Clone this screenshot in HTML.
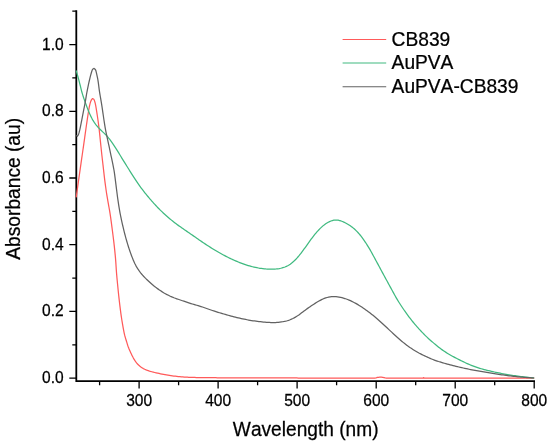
<!DOCTYPE html>
<html><head><meta charset="utf-8"><title>UV-Vis absorbance</title>
<style>
html,body{margin:0;padding:0;background:#fff;}
svg{display:block}
text{font-family:"Liberation Sans",Arial,Helvetica,sans-serif;fill:#000;stroke:#000;stroke-width:0.25px;font-kerning:none}
.t{font-size:16.2px}
.a{font-size:19.9px}
.l{font-size:19.5px}
</style></head><body>
<svg width="550" height="446" viewBox="0 0 550 446">
<rect width="550" height="446" fill="#fff"/>
<path d="M76.3,10.3 V381.2 H535.0" fill="none" stroke="#000" stroke-width="1.8"/>
<path d="M69.3,378.1 H76.3 M72.3,344.8 H76.3 M69.3,311.4 H76.3 M72.3,278.1 H76.3 M69.3,244.7 H76.3 M72.3,211.4 H76.3 M69.3,178.0 H76.3 M72.3,144.7 H76.3 M69.3,111.3 H76.3 M72.3,77.9 H76.3 M69.3,44.6 H76.3 M72.3,11.2 H76.3 M99.6,381.2 V385.2 M139.1,381.2 V388.5 M178.6,381.2 V385.2 M218.1,381.2 V388.5 M257.6,381.2 V385.2 M297.1,381.2 V388.5 M336.6,381.2 V385.2 M376.2,381.2 V388.5 M415.7,381.2 V385.2 M455.2,381.2 V388.5 M494.7,381.2 V385.2 M534.2,381.2 V388.5" fill="none" stroke="#000" stroke-width="1.3"/>
<text transform="translate(63.6,383.0) scale(0.96,1)" text-anchor="end" class="t">0.0</text>
<text transform="translate(63.6,316.3) scale(0.96,1)" text-anchor="end" class="t">0.2</text>
<text transform="translate(63.6,249.6) scale(0.96,1)" text-anchor="end" class="t">0.4</text>
<text transform="translate(63.6,182.9) scale(0.96,1)" text-anchor="end" class="t">0.6</text>
<text transform="translate(63.6,116.2) scale(0.96,1)" text-anchor="end" class="t">0.8</text>
<text transform="translate(63.6,49.5) scale(0.96,1)" text-anchor="end" class="t">1.0</text>
<text transform="translate(139.1,406.4) scale(0.96,1)" text-anchor="middle" class="t">300</text>
<text transform="translate(218.1,406.4) scale(0.96,1)" text-anchor="middle" class="t">400</text>
<text transform="translate(297.1,406.4) scale(0.96,1)" text-anchor="middle" class="t">500</text>
<text transform="translate(376.2,406.4) scale(0.96,1)" text-anchor="middle" class="t">600</text>
<text transform="translate(455.2,406.4) scale(0.96,1)" text-anchor="middle" class="t">700</text>
<text transform="translate(534.2,406.4) scale(0.96,1)" text-anchor="middle" class="t">800</text>
<text transform="translate(305.7,435.9) scale(0.962,1)" text-anchor="middle" class="a">Wavelength (nm)</text>
<text transform="translate(20.0,188.8) rotate(-90) scale(0.979,1)" text-anchor="middle" class="a" style="font-size:19.6px">Absorbance (au)</text>
<path d="M76.20,197.30 L76.41,195.81 L76.62,194.33 L76.83,192.84 L77.04,191.36 L77.25,189.87 L77.45,188.39 L77.66,186.90 L77.87,185.42 L78.08,183.93 L78.29,182.45 L78.50,180.96 L78.71,179.48 L78.92,177.99 L79.13,176.51 L79.34,175.02 L79.55,173.54 L79.76,172.05 L79.98,170.57 L80.19,169.08 L80.40,167.60 L80.61,166.11 L80.83,164.63 L81.04,163.14 L81.25,161.66 L81.47,160.17 L81.68,158.69 L81.89,157.20 L82.11,155.72 L82.32,154.23 L82.53,152.75 L82.75,151.26 L82.96,149.78 L83.17,148.29 L83.39,146.81 L83.60,145.32 L83.81,143.84 L84.02,142.35 L84.23,140.87 L84.45,139.38 L84.66,137.90 L84.86,136.41 L85.07,134.93 L85.28,133.44 L85.49,131.96 L85.70,130.47 L85.90,128.99 L86.11,127.50 L86.32,126.02 L86.53,124.53 L86.75,123.05 L86.96,121.56 L87.18,120.08 L87.41,118.59 L87.63,117.11 L87.86,115.63 L88.09,114.15 L88.33,112.67 L88.57,111.18 L88.81,109.70 L89.07,108.23 L89.34,106.75 L89.65,105.28 L90.00,103.82 L90.41,102.38 L90.91,100.97 L91.56,99.62 L92.59,98.56 L93.79,99.22 L94.42,100.57 L94.88,102.00 L95.25,103.46 L95.56,104.92 L95.85,106.40 L96.11,107.87 L96.35,109.35 L96.59,110.84 L96.82,112.32 L97.04,113.80 L97.26,115.28 L97.48,116.77 L97.70,118.25 L97.92,119.74 L98.13,121.22 L98.33,122.71 L98.52,124.20 L98.72,125.68 L98.90,127.17 L99.08,128.66 L99.25,130.15 L99.42,131.64 L99.58,133.13 L99.73,134.63 L99.89,136.12 L100.04,137.61 L100.19,139.10 L100.34,140.59 L100.50,142.09 L100.65,143.58 L100.80,145.07 L100.95,146.56 L101.11,148.05 L101.26,149.55 L101.42,151.04 L101.58,152.53 L101.74,154.02 L101.91,155.51 L102.08,157.00 L102.25,158.49 L102.42,159.98 L102.59,161.47 L102.77,162.96 L102.94,164.45 L103.11,165.94 L103.28,167.43 L103.44,168.92 L103.61,170.41 L103.78,171.91 L103.95,173.40 L104.12,174.89 L104.29,176.38 L104.47,177.87 L104.65,179.35 L104.84,180.84 L105.04,182.33 L105.24,183.82 L105.44,185.30 L105.64,186.79 L105.85,188.27 L106.05,189.76 L106.27,191.25 L106.48,192.73 L106.71,194.21 L106.95,195.69 L107.21,197.17 L107.47,198.65 L107.72,200.13 L107.98,201.60 L108.24,203.08 L108.51,204.56 L108.77,206.03 L109.03,207.51 L109.29,208.99 L109.54,210.47 L109.79,211.95 L110.03,213.43 L110.26,214.91 L110.49,216.39 L110.70,217.88 L110.91,219.36 L111.11,220.85 L111.32,222.33 L111.51,223.82 L111.71,225.31 L111.90,226.80 L112.09,228.28 L112.29,229.77 L112.48,231.26 L112.67,232.75 L112.86,234.23 L113.05,235.72 L113.24,237.21 L113.42,238.70 L113.60,240.19 L113.78,241.68 L113.95,243.17 L114.12,244.66 L114.29,246.15 L114.45,247.64 L114.61,249.13 L114.77,250.62 L114.92,252.12 L115.07,253.61 L115.22,255.10 L115.35,256.59 L115.49,258.09 L115.61,259.58 L115.72,261.08 L115.83,262.58 L115.93,264.07 L116.02,265.57 L116.12,267.07 L116.21,268.56 L116.31,270.06 L116.42,271.56 L116.53,273.05 L116.66,274.55 L116.79,276.04 L116.92,277.54 L117.06,279.03 L117.21,280.52 L117.35,282.01 L117.50,283.51 L117.65,285.00 L117.80,286.49 L117.94,287.99 L118.09,289.48 L118.24,290.97 L118.39,292.46 L118.55,293.96 L118.70,295.45 L118.86,296.94 L119.03,298.43 L119.20,299.92 L119.37,301.41 L119.54,302.90 L119.72,304.39 L119.90,305.88 L120.09,307.37 L120.28,308.85 L120.47,310.34 L120.66,311.83 L120.86,313.32 L121.07,314.80 L121.28,316.29 L121.50,317.77 L121.72,319.25 L121.96,320.74 L122.20,322.22 L122.45,323.69 L122.71,325.17 L122.97,326.65 L123.23,328.13 L123.51,329.60 L123.79,331.07 L124.09,332.54 L124.41,334.01 L124.75,335.47 L125.14,336.92 L125.56,338.36 L126.01,339.79 L126.46,341.22 L126.90,342.65 L127.33,344.09 L127.79,345.52 L128.28,346.93 L128.81,348.34 L129.38,349.72 L129.98,351.10 L130.60,352.46 L131.24,353.82 L131.89,355.17 L132.57,356.51 L133.27,357.83 L134.01,359.14 L134.80,360.41 L135.65,361.64 L136.56,362.83 L137.53,363.97 L138.57,365.05 L139.68,366.06 L140.84,366.99 L142.08,367.84 L143.37,368.58 L144.72,369.25 L146.09,369.84 L147.49,370.38 L148.91,370.87 L150.34,371.32 L151.78,371.73 L153.23,372.12 L154.68,372.49 L156.14,372.84 L157.60,373.17 L159.07,373.48 L160.54,373.77 L162.02,374.05 L163.49,374.32 L164.97,374.58 L166.44,374.85 L167.92,375.11 L169.40,375.36 L170.88,375.60 L172.36,375.82 L173.85,376.02 L175.34,376.21 L176.83,376.37 L178.32,376.52 L179.82,376.66 L181.31,376.79 L182.81,376.91 L184.30,377.02 L185.80,377.12 L187.30,377.21 L188.79,377.29 L190.29,377.35 L191.79,377.40 L193.29,377.44 L194.79,377.48 L196.29,377.51 L197.79,377.55 L199.29,377.57 L200.79,377.60 L202.29,377.62 L203.79,377.64 L205.29,377.65 L206.79,377.67 L208.29,377.68 L209.79,377.70 L211.29,377.71 L212.79,377.72 L214.29,377.73 L215.79,377.74 L217.29,377.75 L218.79,377.76 L220.29,377.77 L221.79,377.78 L223.29,377.79 L224.79,377.80 L226.29,377.80 L227.79,377.81 L229.29,377.82 L230.79,377.83 L232.29,377.83 L233.79,377.84 L235.29,377.84 L236.79,377.85 L238.29,377.86 L239.79,377.86 L241.29,377.87 L242.79,377.87 L244.29,377.88 L245.79,377.89 L247.29,377.89 L248.79,377.90 L250.29,377.90 L251.79,377.91 L253.29,377.91 L254.79,377.91 L256.29,377.92 L257.79,377.92 L259.29,377.93 L260.79,377.93 L262.29,377.93 L263.79,377.94 L265.29,377.94 L266.79,377.94 L268.29,377.94 L269.79,377.95 L271.29,377.95 L272.79,377.95 L274.29,377.96 L275.79,377.96 L277.29,377.96 L278.79,377.96 L280.29,377.96 L281.79,377.97 L283.29,377.97 L284.79,377.97 L286.29,377.97 L287.79,377.98 L289.29,377.98 L290.79,377.98 L292.29,377.98 L293.79,377.99 L295.29,377.99 L296.79,377.99 L298.29,378.00 L299.79,378.00 L301.29,378.00 L302.79,378.01 L304.29,378.01 L305.79,378.01 L307.29,378.02 L308.79,378.02 L310.29,378.03 L311.79,378.03 L313.29,378.03 L314.79,378.04 L316.29,378.04 L317.79,378.05 L319.29,378.05 L320.79,378.06 L322.29,378.06 L323.79,378.06 L325.29,378.07 L326.79,378.07 L328.29,378.08 L329.79,378.08 L331.29,378.08 L332.79,378.09 L334.29,378.09 L335.79,378.09 L337.29,378.10 L338.79,378.10 L340.29,378.10 L341.79,378.10 L343.29,378.11 L344.79,378.11 L346.29,378.11 L347.79,378.12 L349.29,378.12 L350.79,378.13 L352.29,378.13 L353.79,378.14 L355.29,378.14 L356.79,378.15 L358.29,378.15 L359.79,378.16 L361.29,378.16 L362.79,378.16 L364.29,378.16 L365.79,378.16 L367.29,378.16 L368.79,378.15 L370.29,378.15 L371.79,378.13 L373.28,378.11 L374.74,378.06 L375.97,377.93 L376.71,377.67 L377.32,377.40 L378.39,377.26 L379.80,377.22 L381.29,377.23 L382.72,377.32 L383.99,377.55 L385.20,377.86 L386.54,378.06 L388.01,378.13 L389.50,378.15 L391.00,378.16 L392.50,378.16 L394.00,378.15 L395.50,378.14 L397.00,378.14 L398.50,378.13 L400.00,378.12 L401.50,378.11 L403.00,378.11 L404.50,378.10 L406.00,378.10 L407.50,378.11 L409.00,378.11 L410.50,378.12 L412.00,378.13 L413.50,378.14 L415.00,378.14 L416.50,378.15 L418.00,378.15 L419.50,378.14 L421.00,378.12 L422.43,378.05 L423.51,377.88 L423.76,377.70 L423.40,377.72 L423.50,377.88 L424.48,378.01 L425.89,378.07 L427.38,378.10 L428.88,378.12 L430.38,378.13 L431.88,378.14 L433.38,378.14 L434.88,378.15 L436.38,378.15 L437.88,378.15 L439.38,378.15 L440.88,378.15 L442.38,378.16 L443.88,378.15 L445.38,378.15 L446.88,378.15 L448.38,378.15 L449.88,378.15 L451.38,378.15 L452.88,378.15 L454.38,378.14 L455.88,378.14 L457.38,378.14 L458.88,378.14 L460.38,378.13 L461.88,378.13 L463.38,378.13 L464.88,378.12 L466.38,378.12 L467.88,378.12 L469.38,378.12 L470.88,378.11 L472.38,378.11 L473.88,378.11 L475.38,378.11 L476.88,378.10 L478.38,378.10 L479.88,378.10 L481.38,378.10 L482.88,378.10 L484.38,378.10 L485.88,378.09 L487.38,378.09 L488.88,378.09 L490.38,378.09 L491.88,378.08 L493.38,378.08 L494.88,378.08 L496.38,378.08 L497.88,378.07 L499.38,378.07 L500.88,378.07 L502.38,378.07 L503.88,378.06 L505.38,378.06 L506.88,378.06 L508.38,378.05 L509.88,378.05 L511.38,378.05 L512.88,378.04 L514.38,378.04 L515.88,378.04 L517.38,378.04 L518.88,378.03 L520.38,378.03 L521.88,378.03 L523.38,378.02 L524.88,378.02 L526.38,378.02 L527.88,378.01 L529.38,378.01 L530.88,378.01 L532.35,378.00 L533.75,378.00 L534.20,378.00" fill="none" stroke="#ff5a5a" stroke-width="1.25" stroke-linejoin="round"/>
<path d="M76.20,70.50 L76.60,71.95 L77.00,73.39 L77.40,74.84 L77.80,76.28 L78.20,77.73 L78.60,79.18 L78.99,80.62 L79.37,82.07 L79.74,83.53 L80.10,84.98 L80.46,86.44 L80.81,87.90 L81.17,89.35 L81.54,90.81 L81.92,92.26 L82.33,93.70 L82.77,95.14 L83.23,96.56 L83.71,97.98 L84.21,99.40 L84.72,100.81 L85.23,102.22 L85.73,103.63 L86.24,105.04 L86.76,106.45 L87.28,107.86 L87.82,109.26 L88.37,110.65 L88.93,112.04 L89.52,113.42 L90.13,114.79 L90.76,116.15 L91.43,117.50 L92.12,118.82 L92.86,120.12 L93.64,121.40 L94.46,122.65 L95.33,123.88 L96.24,125.06 L97.19,126.22 L98.18,127.34 L99.20,128.44 L100.25,129.51 L101.32,130.56 L102.41,131.59 L103.51,132.61 L104.60,133.63 L105.67,134.68 L106.70,135.77 L107.69,136.89 L108.64,138.05 L109.57,139.23 L110.47,140.42 L111.36,141.63 L112.22,142.86 L113.08,144.09 L113.91,145.34 L114.73,146.59 L115.55,147.85 L116.35,149.12 L117.15,150.39 L117.94,151.66 L118.73,152.94 L119.51,154.22 L120.29,155.50 L121.06,156.79 L121.84,158.07 L122.62,159.35 L123.41,160.63 L124.20,161.90 L124.99,163.18 L125.78,164.45 L126.58,165.72 L127.38,166.99 L128.17,168.26 L128.97,169.53 L129.76,170.81 L130.56,172.08 L131.35,173.35 L132.15,174.62 L132.96,175.88 L133.77,177.14 L134.59,178.40 L135.41,179.66 L136.24,180.90 L137.08,182.15 L137.93,183.39 L138.78,184.62 L139.65,185.84 L140.53,187.05 L141.42,188.26 L142.32,189.46 L143.24,190.65 L144.15,191.84 L145.08,193.02 L146.02,194.19 L146.96,195.35 L147.91,196.51 L148.88,197.66 L149.85,198.80 L150.83,199.94 L151.82,201.07 L152.81,202.19 L153.81,203.31 L154.82,204.42 L155.84,205.52 L156.87,206.61 L157.90,207.70 L158.95,208.77 L160.01,209.83 L161.09,210.88 L162.17,211.91 L163.26,212.94 L164.37,213.95 L165.48,214.96 L166.60,215.96 L167.73,216.94 L168.86,217.93 L170.01,218.90 L171.15,219.86 L172.31,220.82 L173.47,221.76 L174.65,222.69 L175.84,223.60 L177.05,224.49 L178.27,225.37 L179.49,226.24 L180.72,227.10 L181.95,227.96 L183.18,228.81 L184.41,229.67 L185.65,230.52 L186.88,231.37 L188.12,232.23 L189.35,233.08 L190.59,233.93 L191.82,234.78 L193.06,235.63 L194.29,236.48 L195.52,237.34 L196.75,238.19 L197.98,239.05 L199.21,239.91 L200.45,240.77 L201.68,241.62 L202.92,242.47 L204.16,243.31 L205.41,244.14 L206.66,244.97 L207.92,245.78 L209.18,246.59 L210.45,247.39 L211.72,248.19 L213.00,248.97 L214.28,249.75 L215.57,250.52 L216.86,251.28 L218.16,252.04 L219.46,252.78 L220.77,253.51 L222.08,254.23 L223.41,254.94 L224.73,255.65 L226.06,256.34 L227.40,257.02 L228.74,257.69 L230.09,258.34 L231.44,258.99 L232.80,259.62 L234.17,260.23 L235.55,260.83 L236.92,261.42 L238.31,262.00 L239.70,262.56 L241.10,263.11 L242.50,263.64 L243.91,264.15 L245.33,264.64 L246.75,265.11 L248.18,265.55 L249.62,265.97 L251.07,266.37 L252.52,266.74 L253.98,267.09 L255.44,267.41 L256.91,267.72 L258.38,268.00 L259.86,268.26 L261.34,268.49 L262.83,268.69 L264.32,268.86 L265.81,268.99 L267.31,269.08 L268.80,269.14 L270.30,269.17 L271.80,269.17 L273.30,269.14 L274.80,269.08 L276.29,268.96 L277.78,268.79 L279.25,268.56 L280.72,268.26 L282.17,267.89 L283.60,267.46 L285.01,266.97 L286.39,266.39 L287.72,265.73 L289.02,264.99 L290.26,264.17 L291.46,263.27 L292.62,262.33 L293.74,261.33 L294.82,260.30 L295.88,259.24 L296.91,258.15 L297.90,257.03 L298.87,255.89 L299.82,254.72 L300.74,253.54 L301.64,252.34 L302.54,251.14 L303.43,249.93 L304.31,248.72 L305.20,247.51 L306.08,246.29 L306.95,245.08 L307.82,243.85 L308.69,242.63 L309.56,241.41 L310.43,240.18 L311.31,238.97 L312.20,237.77 L313.11,236.58 L314.04,235.40 L314.99,234.23 L315.95,233.08 L316.92,231.95 L317.92,230.82 L318.94,229.72 L319.98,228.65 L321.05,227.60 L322.16,226.59 L323.30,225.63 L324.48,224.71 L325.70,223.84 L326.96,223.03 L328.25,222.28 L329.58,221.60 L330.95,221.02 L332.35,220.55 L333.79,220.22 L335.26,220.06 L336.73,220.06 L338.20,220.22 L339.64,220.53 L341.07,220.96 L342.46,221.49 L343.83,222.09 L345.17,222.75 L346.49,223.46 L347.79,224.20 L349.07,224.99 L350.31,225.82 L351.53,226.69 L352.71,227.61 L353.87,228.57 L354.98,229.56 L356.07,230.59 L357.13,231.66 L358.15,232.75 L359.15,233.87 L360.11,235.02 L361.05,236.18 L361.97,237.37 L362.86,238.58 L363.73,239.80 L364.58,241.03 L365.42,242.28 L366.24,243.53 L367.05,244.79 L367.84,246.07 L368.62,247.35 L369.39,248.64 L370.14,249.93 L370.88,251.24 L371.61,252.55 L372.33,253.86 L373.05,255.18 L373.76,256.50 L374.47,257.82 L375.18,259.14 L375.89,260.46 L376.61,261.78 L377.32,263.10 L378.04,264.42 L378.75,265.74 L379.46,267.06 L380.18,268.38 L380.89,269.70 L381.60,271.02 L382.31,272.34 L383.02,273.66 L383.73,274.98 L384.45,276.30 L385.16,277.62 L385.88,278.94 L386.60,280.25 L387.32,281.57 L388.04,282.89 L388.75,284.20 L389.47,285.52 L390.19,286.84 L390.92,288.15 L391.64,289.47 L392.36,290.78 L393.08,292.10 L393.79,293.42 L394.51,294.73 L395.24,296.04 L395.97,297.35 L396.72,298.65 L397.49,299.94 L398.28,301.22 L399.07,302.49 L399.88,303.75 L400.69,305.01 L401.51,306.27 L402.34,307.52 L403.18,308.76 L404.03,310.00 L404.88,311.23 L405.75,312.46 L406.62,313.68 L407.50,314.89 L408.39,316.10 L409.30,317.29 L410.21,318.49 L411.13,319.67 L412.06,320.84 L413.00,322.01 L413.96,323.17 L414.92,324.31 L415.90,325.45 L416.89,326.58 L417.88,327.71 L418.88,328.82 L419.90,329.93 L420.92,331.02 L421.95,332.11 L422.99,333.19 L424.05,334.26 L425.11,335.32 L426.18,336.36 L427.27,337.40 L428.37,338.42 L429.48,339.42 L430.60,340.42 L431.73,341.41 L432.86,342.39 L434.01,343.36 L435.15,344.33 L436.31,345.29 L437.47,346.24 L438.64,347.17 L439.82,348.09 L441.02,348.99 L442.24,349.87 L443.47,350.72 L444.72,351.56 L445.98,352.37 L447.25,353.17 L448.53,353.95 L449.82,354.71 L451.12,355.45 L452.43,356.18 L453.75,356.90 L455.07,357.61 L456.40,358.30 L457.74,358.99 L459.07,359.67 L460.42,360.33 L461.76,360.99 L463.11,361.65 L464.47,362.30 L465.82,362.94 L467.19,363.56 L468.56,364.16 L469.94,364.74 L471.33,365.30 L472.73,365.84 L474.14,366.37 L475.55,366.88 L476.96,367.37 L478.38,367.85 L479.81,368.30 L481.25,368.74 L482.69,369.15 L484.14,369.54 L485.59,369.92 L487.05,370.28 L488.50,370.64 L489.96,370.98 L491.42,371.33 L492.88,371.66 L494.35,371.99 L495.81,372.32 L497.28,372.63 L498.75,372.93 L500.22,373.23 L501.69,373.52 L503.16,373.80 L504.64,374.07 L506.11,374.34 L507.59,374.59 L509.07,374.84 L510.55,375.07 L512.04,375.30 L513.52,375.52 L515.01,375.73 L516.49,375.93 L517.98,376.13 L519.47,376.33 L520.95,376.52 L522.44,376.70 L523.93,376.89 L525.42,377.06 L526.91,377.24 L528.40,377.41 L529.88,377.57 L531.34,377.73 L532.78,377.87 L534.20,378.00 L534.20,378.00" fill="none" stroke="#40ba80" stroke-width="1.25" stroke-linejoin="round"/>
<path d="M76.30,135.30 L77.28,136.26 L78.18,135.09 L78.73,133.69 L79.15,132.25 L79.53,130.80 L79.88,129.34 L80.20,127.88 L80.51,126.41 L80.81,124.94 L81.10,123.47 L81.38,121.99 L81.66,120.52 L81.94,119.05 L82.22,117.57 L82.51,116.10 L82.80,114.63 L83.09,113.16 L83.38,111.69 L83.67,110.21 L83.95,108.74 L84.23,107.27 L84.52,105.79 L84.80,104.32 L85.08,102.85 L85.35,101.37 L85.62,99.90 L85.87,98.42 L86.11,96.94 L86.35,95.46 L86.59,93.98 L86.85,92.50 L87.13,91.02 L87.42,89.55 L87.72,88.08 L88.03,86.62 L88.34,85.15 L88.66,83.68 L88.98,82.22 L89.31,80.75 L89.64,79.29 L89.99,77.83 L90.35,76.38 L90.74,74.93 L91.14,73.48 L91.57,72.04 L92.03,70.62 L92.64,69.25 L93.85,68.40 L95.06,69.16 L95.79,70.42 L96.18,71.87 L96.53,73.33 L96.86,74.79 L97.18,76.26 L97.47,77.73 L97.76,79.20 L98.01,80.68 L98.24,82.16 L98.45,83.65 L98.64,85.13 L98.83,86.62 L99.02,88.11 L99.21,89.60 L99.43,91.08 L99.66,92.56 L99.90,94.05 L100.14,95.52 L100.39,97.00 L100.65,98.48 L100.89,99.96 L101.14,101.44 L101.40,102.92 L101.64,104.40 L101.88,105.88 L102.11,107.36 L102.33,108.85 L102.55,110.33 L102.76,111.81 L102.98,113.30 L103.19,114.78 L103.41,116.27 L103.62,117.75 L103.84,119.24 L104.06,120.72 L104.28,122.20 L104.51,123.69 L104.75,125.17 L104.99,126.65 L105.25,128.12 L105.53,129.60 L105.81,131.07 L106.11,132.54 L106.41,134.01 L106.71,135.48 L107.01,136.95 L107.34,138.42 L107.68,139.88 L107.99,141.34 L108.31,142.81 L108.62,144.28 L108.94,145.74 L109.25,147.21 L109.56,148.68 L109.87,150.14 L110.18,151.61 L110.49,153.08 L110.80,154.55 L111.11,156.02 L111.42,157.48 L111.74,158.95 L112.05,160.42 L112.37,161.88 L112.68,163.35 L112.98,164.82 L113.27,166.29 L113.55,167.76 L113.82,169.24 L114.07,170.72 L114.31,172.20 L114.52,173.68 L114.73,175.17 L114.93,176.66 L115.12,178.14 L115.31,179.63 L115.50,181.12 L115.69,182.61 L115.88,184.09 L116.07,185.58 L116.25,187.07 L116.44,188.56 L116.62,190.05 L116.81,191.54 L117.00,193.03 L117.19,194.51 L117.38,196.00 L117.58,197.49 L117.79,198.97 L118.00,200.46 L118.22,201.94 L118.44,203.42 L118.67,204.91 L118.91,206.39 L119.16,207.87 L119.41,209.35 L119.67,210.82 L119.93,212.30 L120.21,213.77 L120.49,215.25 L120.78,216.72 L121.09,218.19 L121.39,219.66 L121.71,221.12 L122.04,222.59 L122.37,224.05 L122.71,225.51 L123.05,226.97 L123.40,228.43 L123.75,229.89 L124.11,231.34 L124.47,232.80 L124.85,234.25 L125.23,235.70 L125.61,237.15 L126.01,238.60 L126.42,240.04 L126.84,241.48 L127.26,242.92 L127.70,244.36 L128.14,245.79 L128.59,247.22 L129.05,248.65 L129.52,250.07 L130.01,251.49 L130.51,252.90 L131.02,254.31 L131.55,255.72 L132.09,257.12 L132.65,258.51 L133.22,259.90 L133.81,261.27 L134.43,262.64 L135.07,264.00 L135.74,265.34 L136.45,266.65 L137.21,267.95 L138.01,269.21 L138.86,270.45 L139.74,271.66 L140.66,272.85 L141.60,274.01 L142.57,275.15 L143.57,276.27 L144.61,277.36 L145.66,278.42 L146.74,279.46 L147.83,280.49 L148.92,281.52 L150.02,282.54 L151.13,283.54 L152.27,284.53 L153.42,285.49 L154.58,286.43 L155.77,287.35 L156.98,288.24 L158.19,289.12 L159.42,289.98 L160.67,290.81 L161.92,291.63 L163.20,292.42 L164.49,293.19 L165.79,293.92 L167.11,294.63 L168.45,295.31 L169.80,295.97 L171.16,296.59 L172.53,297.19 L173.92,297.76 L175.32,298.29 L176.74,298.80 L178.15,299.28 L179.58,299.76 L181.00,300.24 L182.42,300.72 L183.84,301.21 L185.25,301.70 L186.67,302.19 L188.09,302.67 L189.52,303.14 L190.95,303.59 L192.39,304.02 L193.83,304.43 L195.27,304.83 L196.72,305.24 L198.16,305.66 L199.59,306.09 L201.02,306.55 L202.44,307.03 L203.86,307.52 L205.27,308.02 L206.69,308.52 L208.10,309.02 L209.52,309.51 L210.94,310.00 L212.36,310.48 L213.78,310.95 L215.21,311.41 L216.64,311.86 L218.07,312.30 L219.51,312.74 L220.95,313.17 L222.39,313.59 L223.83,314.01 L225.27,314.42 L226.71,314.83 L228.16,315.23 L229.60,315.63 L231.05,316.03 L232.50,316.42 L233.95,316.80 L235.40,317.17 L236.86,317.54 L238.31,317.89 L239.77,318.23 L241.24,318.56 L242.70,318.88 L244.17,319.18 L245.64,319.48 L247.12,319.76 L248.59,320.03 L250.07,320.29 L251.55,320.54 L253.03,320.77 L254.51,320.99 L256.00,321.19 L257.49,321.38 L258.98,321.55 L260.47,321.72 L261.96,321.87 L263.45,322.01 L264.95,322.14 L266.44,322.26 L267.94,322.37 L269.43,322.47 L270.93,322.55 L272.43,322.59 L273.93,322.59 L275.43,322.53 L276.92,322.43 L278.41,322.30 L279.91,322.13 L281.39,321.94 L282.87,321.72 L284.35,321.45 L285.81,321.13 L287.26,320.74 L288.68,320.29 L290.09,319.76 L291.47,319.18 L292.82,318.54 L294.15,317.85 L295.45,317.11 L296.73,316.33 L297.99,315.51 L299.22,314.65 L300.42,313.76 L301.62,312.85 L302.80,311.94 L304.00,311.03 L305.20,310.14 L306.41,309.26 L307.63,308.38 L308.86,307.51 L310.09,306.65 L311.32,305.80 L312.57,304.97 L313.83,304.15 L315.09,303.35 L316.37,302.57 L317.66,301.80 L318.96,301.06 L320.27,300.33 L321.60,299.63 L322.95,298.98 L324.32,298.39 L325.73,297.90 L327.17,297.50 L328.63,297.18 L330.11,296.92 L331.59,296.71 L333.08,296.60 L334.57,296.59 L336.06,296.68 L337.55,296.86 L339.03,297.10 L340.50,297.39 L341.96,297.72 L343.41,298.10 L344.84,298.53 L346.26,299.00 L347.67,299.53 L349.06,300.09 L350.43,300.69 L351.79,301.33 L353.13,301.99 L354.46,302.68 L355.78,303.40 L357.08,304.15 L358.37,304.91 L359.64,305.70 L360.91,306.51 L362.16,307.33 L363.41,308.17 L364.64,309.03 L365.86,309.90 L367.07,310.78 L368.28,311.67 L369.48,312.57 L370.67,313.48 L371.85,314.40 L373.03,315.33 L374.19,316.28 L375.35,317.23 L376.49,318.20 L377.62,319.19 L378.74,320.19 L379.86,321.19 L380.96,322.21 L382.06,323.23 L383.16,324.25 L384.26,325.27 L385.36,326.29 L386.46,327.31 L387.55,328.33 L388.65,329.35 L389.75,330.38 L390.85,331.39 L391.95,332.41 L393.06,333.43 L394.16,334.44 L395.27,335.46 L396.37,336.47 L397.48,337.48 L398.60,338.48 L399.73,339.47 L400.86,340.45 L402.01,341.41 L403.17,342.36 L404.34,343.30 L405.53,344.22 L406.72,345.13 L407.92,346.03 L409.14,346.90 L410.37,347.76 L411.62,348.59 L412.88,349.41 L414.15,350.21 L415.43,350.98 L416.72,351.74 L418.03,352.48 L419.34,353.21 L420.67,353.91 L422.00,354.59 L423.35,355.25 L424.70,355.91 L426.05,356.55 L427.42,357.18 L428.78,357.79 L430.16,358.39 L431.54,358.96 L432.94,359.52 L434.34,360.05 L435.75,360.56 L437.17,361.04 L438.59,361.51 L440.03,361.95 L441.46,362.39 L442.90,362.82 L444.34,363.23 L445.78,363.64 L447.23,364.04 L448.68,364.43 L450.13,364.82 L451.58,365.20 L453.03,365.58 L454.48,365.95 L455.94,366.31 L457.40,366.66 L458.86,367.01 L460.32,367.35 L461.78,367.69 L463.24,368.01 L464.71,368.33 L466.17,368.65 L467.64,368.95 L469.11,369.25 L470.58,369.54 L472.06,369.83 L473.53,370.11 L475.00,370.39 L476.48,370.66 L477.96,370.92 L479.43,371.18 L480.91,371.43 L482.39,371.68 L483.87,371.93 L485.35,372.17 L486.83,372.41 L488.31,372.65 L489.80,372.88 L491.28,373.11 L492.76,373.34 L494.24,373.57 L495.72,373.80 L497.21,374.03 L498.69,374.28 L500.17,374.52 L501.65,374.76 L503.13,374.99 L504.61,375.20 L506.10,375.41 L507.59,375.60 L509.08,375.78 L510.57,375.95 L512.06,376.13 L513.55,376.29 L515.04,376.45 L516.53,376.61 L518.02,376.76 L519.51,376.91 L521.01,377.05 L522.50,377.18 L524.00,377.30 L525.49,377.41 L526.99,377.51 L528.49,377.62 L529.98,377.72 L531.44,377.82 L532.85,377.91 L534.20,378.00 L534.20,378.00" fill="none" stroke="#626262" stroke-width="1.25" stroke-linejoin="round"/>
<path d="M342.6,39.5 H386.2" stroke="#ff5a5a" stroke-width="1.05"/>
<text transform="translate(391.6,45.6) scale(0.984,1)" class="l">CB839</text>
<path d="M342.6,63.0 H386.2" stroke="#40ba80" stroke-width="1.05"/>
<text transform="translate(391.6,69.2) scale(0.984,1)" class="l">AuPVA</text>
<path d="M342.6,86.8 H386.2" stroke="#626262" stroke-width="1.05"/>
<text transform="translate(391.6,92.8) scale(0.984,1)" class="l">AuPVA-CB839</text>
</svg>
</body></html>
